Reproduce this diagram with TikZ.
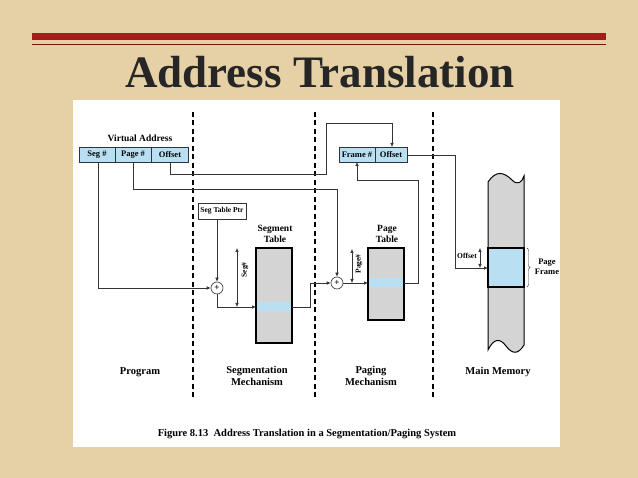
\documentclass[tikz,border=0pt]{standalone}
\usepackage{fontspec}
\setmainfont{Liberation Serif}
\usetikzlibrary{arrows.meta,decorations.pathreplacing}
\definecolor{parch}{HTML}{E6D0A6}
\definecolor{cellblue}{HTML}{B9E0F2}
\definecolor{tblgray}{HTML}{D4D4D4}
\definecolor{barred}{HTML}{A51C1C}
\tikzset{
  x=1pt,y=-1pt,
  lbl/.style={font=\bfseries\fontsize{9.5}{11}\selectfont,inner sep=0pt,align=center},
  clbl/.style={font=\bfseries\fontsize{8.5}{9}\selectfont,inner sep=0pt,align=center},
  sml/.style={font=\bfseries\fontsize{7.5}{8}\selectfont,inner sep=0pt,align=center},
  cell/.style={draw=black!80,fill=cellblue,line width=0.7pt},
  wire/.style={draw=black!80,line width=0.6pt},
  arr/.style={wire,-{Latex[length=4pt,width=3.5pt]}},
  darr/.style={wire,{Latex[length=4pt,width=3.5pt]}-{Latex[length=4pt,width=3.5pt]}},
  sep/.style={line width=2.8pt,dash pattern=on 5pt off 3.5pt},
  plus/.style={draw=black!80,line width=0.6pt,circle,fill=white,minimum size=12pt,inner sep=0pt,font=\bfseries\fontsize{9}{9}\selectfont},
  tbl/.style={draw=black,line width=1.2pt,fill=tblgray},
  big/.style={font=\bfseries\fontsize{10.5}{12.5}\selectfont,inner sep=0pt,align=center}
}
\begin{document}
\begin{tikzpicture}
\useasboundingbox (0,0) rectangle (638,478);
\fill[parch] (0,0) rectangle (638,478);
\fill[barred] (32,33) rectangle (606,40);
\draw[barred!70!black,line width=0.5pt] (32,44) -- (606,44);
\node[font=\bfseries\fontsize{45}{45}\selectfont,text=black!85] (title) at (320,72) {Address Translation};
\fill[white] (73,100) rectangle (560,447);
% separators
\foreach \xx in {193,315,433} \draw[sep] (\xx,112) -- (\xx,400);
% virtual address
\node[lbl] (va) at (140,138) {Virtual Address};
\draw[cell] (79,147) rectangle (188,162);
\draw[black!80,line width=0.7pt] (115,147) -- (115,162) (151,147) -- (151,162);
\node[clbl] (seg) at (97,155) {Seg \#};
\node[clbl] (pg) at (133,155) {Page \#};
\node[clbl] (off) at (170,155) {Offset};
% frame box
\draw[cell] (339,147) rectangle (407,162);
\draw[black!80,line width=0.7pt] (375,147) -- (375,162);
\node[clbl] (fr) at (357,155) {Frame \#};
\node[clbl] (off2) at (391,155) {Offset};
% seg table ptr
\node[draw=black!80,line width=0.7pt,sml,minimum width=48pt,minimum height=16pt] (stp) at (222,211) {Seg Table Ptr};
\node[plus] (p1) at (217,288) {+};
\node[plus] (p2) at (337,283) {+};
% segment table
\draw[tbl] (256,248) rectangle (292,343);
\fill[cellblue] (256.6,302) rectangle (291.4,311);
\coordinate (segin) at (256,307);
\node[lbl] (segtl) at (275,234) {Segment\\Table};
% page table
\draw[tbl] (368,248) rectangle (404,320);
\fill[cellblue] (368.6,278) rectangle (403.4,287);
\coordinate (pgin) at (368,283);
\node[lbl] (pgtl) at (387,234) {Page\\Table};
% memory
\draw[fill=tblgray,line width=1pt] (488,182) .. controls (496,170) and (504,172) .. (512,180) .. controls (518,186) and (522,182) .. (524,176)
  -- (524,345) .. controls (518,355) and (512,354) .. (506,346) .. controls (500,338) and (494,338) .. (488,350) -- cycle;
\draw[fill=cellblue,line width=1.2pt] (488,248) rectangle (524,287);
\coordinate (memin) at (488,268);
% wires
\draw[arr] (98,162) -- (98,288) -- (p1);
\draw[arr] (stp.south -| p1) -- (p1);
\draw[arr] (p1.south) |- (segin);
\draw[darr] (237,248) -- (237,307);
\node[sml,rotate=90] (segh) at (245,270) {Seg\#};
\draw[arr] (292,307) -- (310,307) |- (p2);
\draw[arr] (133,162) |- (337,189) -- (p2);
\draw[arr] (170,162) |- (326,174) |- (392,123) -- (392,147);
\draw[arr] (p2) -- (pgin);
\draw[darr] (352,249) -- (352,283);
\node[sml,rotate=90] (pgh) at (359,264) {Page\#};
\draw[arr] (404,283) -| (418,180) -| (357,162);
\draw[arr] (407,155) -| (455,268) -- (memin);
\draw[darr] (480,248) -- (480,268);
\node[sml] (offl) at (467,256) {Offset};
\draw[decorate,decoration={brace,amplitude=3pt},black!80] (527,248) -- (527,287);
\node[sml,font=\bfseries\fontsize{8.5}{9.5}\selectfont] (pf) at (547,267) {Page\\Frame};
% bottom labels
\node[big] (prog) at (140,372) {Program};
\node[big,anchor=north] (segm) at (257,366) {Segmentation\\Mechanism};
\node[big,anchor=north] (pagm) at (371,366) {Paging\\Mechanism};
\node[big] (mm) at (498,372) {Main Memory};
\node[big] (cap) at (307,434) {Figure 8.13\ \ Address Translation in a Segmentation/Paging System};
\end{tikzpicture}
\end{document}
